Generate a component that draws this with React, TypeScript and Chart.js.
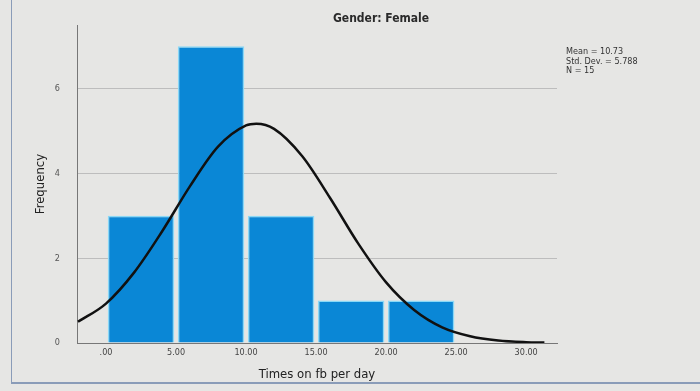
import React, { useEffect, useRef } from "react";
import { Chart, registerables } from "chart.js";

Chart.register(...registerables);

const binCenters = [2.5, 7.5, 12.5, 17.5, 22.5];
const frequencies = [3, 7, 3, 1, 1];
const curveX = [-2, 0, 2, 4, 6, 8, 10, 10.73, 12, 14, 16, 18, 20, 22, 24, 26, 28, 30, 31.3];
const curveY = [0.5, 0.93, 1.66, 2.63, 3.7, 4.63, 5.13, 5.17, 5.05, 4.41, 3.42, 2.35, 1.43, 0.78, 0.37, 0.16, 0.06, 0.02, 0.01];
const yTicks = [0, 2, 4, 6];
const xTicks = [0, 5, 10, 15, 20, 25, 30];
const titleText = "Gender: Female";
const statsLines = ["Mean = 10.73", "Std. Dev. = 5.788", "N = 15"];

const FONT = "'Liberation Sans Narrow', 'DejaVu Sans Condensed', 'Liberation Sans', sans-serif";

const textPlugin = {
  id: "textPlugin",
  afterDraw(chart: any) {
    const ctx = chart.ctx;
    ctx.save();
    ctx.fillStyle = "#2a2a2a";
    ctx.font = `bold 12px ${FONT}`;
    ctx.textAlign = "center";
    ctx.textBaseline = "middle";
    ctx.fillText(titleText, 381, 19);
    ctx.font = `9px ${FONT}`;
    ctx.textAlign = "left";
    ctx.fillStyle = "#333";
    statsLines.forEach((s, i) => ctx.fillText(s, 566, 52 + i * 9.5));
    ctx.restore();
  },
};

export default function App() {
  const ref = useRef<HTMLCanvasElement>(null);
  useEffect(() => {
    const chart = new Chart(ref.current!, {
      type: "bar",
      data: {
        datasets: [
          {
            type: "line" as any,
            data: curveX.map((x, i) => ({ x, y: curveY[i] })),
            borderColor: "#111",
            borderWidth: 2.5,
            pointRadius: 0,
            cubicInterpolationMode: "monotone",
            fill: false,
            order: 0,
          } as any,
          {
            type: "bar",
            data: binCenters.map((x, i) => ({ x, y: frequencies[i] })),
            backgroundColor: "#0a87d6",
            borderColor: "#8ad8f6",
            borderWidth: 1.5,
            barPercentage: 0.95,
            categoryPercentage: 1,
            order: 1,
          } as any,
        ],
      },
      options: {
        animation: false,
        responsive: false,
        layout: { padding: { top: 25, right: 143, bottom: 0, left: 0 } },
        plugins: { legend: { display: false }, tooltip: { enabled: false } },
        scales: {
          x: {
            type: "linear",
            offset: false,
            min: -2.07,
            max: 32.2,
            afterFit: (s: any) => { s.height = 48; },
            afterBuildTicks: (s: any) => { s.ticks = xTicks.map((v) => ({ value: v })); },
            grid: { display: false, drawTicks: false, offset: false },
            border: { color: "#777", width: 1 },
            ticks: {
              padding: 4,
              color: "#444",
              font: { family: FONT, size: 9 },
              maxRotation: 0,
              callback: (v: any) => (v === 0 ? ".00" : Number(v).toFixed(2)),
            },
            title: {
              display: true,
              text: "Times on fb per day",
              color: "#222",
              font: { family: FONT, size: 13 },
              padding: { top: 0, bottom: 9 },
            },
          },
          y: {
            min: 0,
            max: 7.5,
            afterFit: (s: any) => { s.width = 77; },
            afterBuildTicks: (s: any) => { s.ticks = yTicks.map((v) => ({ value: v })); },
            grid: {
              color: (c: any) => (c.tick && c.tick.value === 0 ? "rgba(0,0,0,0)" : "#bdbdbd"),
              drawTicks: false,
            },
            border: { color: "#777", width: 1 },
            ticks: { padding: 17, color: "#555", font: { family: FONT, size: 9 } },
            title: {
              display: true,
              text: "Frequency",
              color: "#222",
              font: { family: FONT, size: 13 },
              padding: { top: 33, bottom: 0 },
            },
          },
        },
      },
      plugins: [textPlugin],
    } as any);
    return () => chart.destroy();
  }, []);
  return (
    <div style={{ position: "absolute", left: 0, top: 0, width: 700, height: 391, background: "#e6e6e4", overflow: "hidden" }}>
      <div style={{ position: "absolute", left: 11, top: -2, width: 720, height: 384, borderLeft: "1px solid #8a9cb8", borderBottom: "2px solid #8a9cb8" }} />
      <canvas ref={ref} width={700} height={391} style={{ position: "absolute", left: 0, top: 0 }} />
    </div>
  );
}
